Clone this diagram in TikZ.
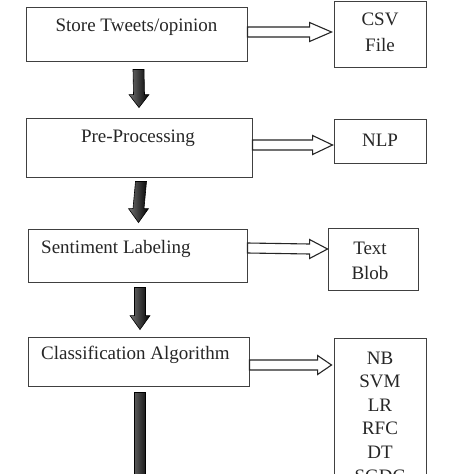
\documentclass[tikz,border=0pt]{standalone}
\usepackage{fontspec}
\setmainfont{Liberation Serif}
\usetikzlibrary{calc}
\tikzset{
  box/.style={draw=black!75, line width=0.9pt, fill=white, inner sep=0pt},
  txt/.style={text=black!85, inner sep=0pt, font=\fontsize{19}{24}\selectfont},
  downfill/.style={left color=black!55, right color=black, draw=black, line width=0.6pt},
  dblfill/.style={fill=white, draw=black!85, line width=1.1pt, line join=miter},
}
% down arrow from #1 to #2 (tip), head length #3
\newcommand\myDown[3]{%
  \path[downfill] ($(#1)+(-5.5,0)$) -- ($(#1)+(5.5,0)$) -- ($(#2)+(5.5,-#3)$) -- ($(#2)+(10,-#3)$)
    -- (#2) -- ($(#2)+(-10,-#3)$) -- ($(#2)+(-5.5,-#3)$) -- cycle;}
% outlined double-line arrow from #1 to #2 (tip), head length #3
\newcommand\myRight[3]{%
  \path[dblfill] ($(#1)+(0,-5)$) -- ($(#2)+(-#3,-5)$) -- ($(#2)+(-#3,-9.5)$) -- (#2)
    -- ($(#2)+(-#3,9.5)$) -- ($(#2)+(-#3,5)$) -- ($(#1)+(0,5)$) -- cycle;}
\begin{document}
\begin{tikzpicture}[x=1pt,y=-1pt]
\useasboundingbox (0,0) rectangle (474,474);
\clip (0,0) rectangle (474,474);
\fill[white] (0,0) rectangle (474,474);
% main boxes
\node[box, minimum width=221pt, minimum height=54pt] (b1) at (136.5,34) {};
\node[txt] (t1) at (136.5,27) {Store Tweets/opinion};
\node[box, minimum width=226pt, minimum height=59pt] (b2) at (139,147.5) {};
\node[txt] (t2) at (138,138) {Pre-Processing};
\node[box, minimum width=219pt, minimum height=53pt] (b3) at (137.5,255.5) {};
\node[txt, anchor=west] (t3) at (41,249) {Sentiment Labeling};
\node[box, minimum width=221pt, minimum height=49pt] (b4) at (138.5,361.5) {};
\node[txt, anchor=west] (t4) at (41,355) {Classification Algorithm};
% side boxes
\node[box, minimum width=92pt, minimum height=66pt] (s1) at (380,34) {};
\node[txt, align=center, font=\fontsize{19}{26}\selectfont] (u1) at (380,32) {CSV\\File};
\node[box, minimum width=92pt, minimum height=44pt] (s2) at (380,141) {};
\node[txt] (u2) at (380,140) {NLP};
\node[box, minimum width=90pt, minimum height=62pt] (s3) at (373,259) {};
\node[txt, align=center, font=\fontsize{19}{25}\selectfont] (u3) at (370,260.5) {Text\\Blob};
\node[box, minimum width=92pt, minimum height=170pt] (s4) at (380,423) {};
\node[txt, align=center, anchor=north, font=\fontsize{19}{23.6}\selectfont] (u4) at (380,351.5) {NB\\SVM\\LR\\RFC\\DT\\SGDC};
% down arrows
\coordinate (d1a) at ($(b1.south)+(2,8)$);
\coordinate (d1b) at ($(b2.north)+(0,-10)$);
\myDown{d1a}{d1b}{13}
\coordinate (d2a) at ($(b2.south)+(2,4)$);
\coordinate (d2b) at ($(b3.north)+(1,-6)$);
\myDown{d2a}{d2b}{14}
\coordinate (d3a) at ($(b3.south)+(2.5,5)$);
\coordinate (d3b) at ($(b4.north)+(1.5,-7)$);
\myDown{d3a}{d3b}{14}
\coordinate (d4a) at ($(b4.south)+(1.5,6)$);
\coordinate (d4b) at ($(b4.south)+(1.5,130)$);
\myDown{d4a}{d4b}{14}
% right arrows
\myRight{$(b1.east)+(0,-2)$}{$(s1.west)+(-2,-2)$}{22}
\myRight{$(b2.east)+(0,-2.5)$}{$(s2.west)+(-1,4)$}{20}
\myRight{$(b3.east)+(0,-7.5)$}{$(s3.west)+(0,-10)$}{18}
\myRight{$(b4.east)+(0,3.5)$}{$(s4.west)+(-2,-58)$}{14}
\end{tikzpicture}
\end{document}
